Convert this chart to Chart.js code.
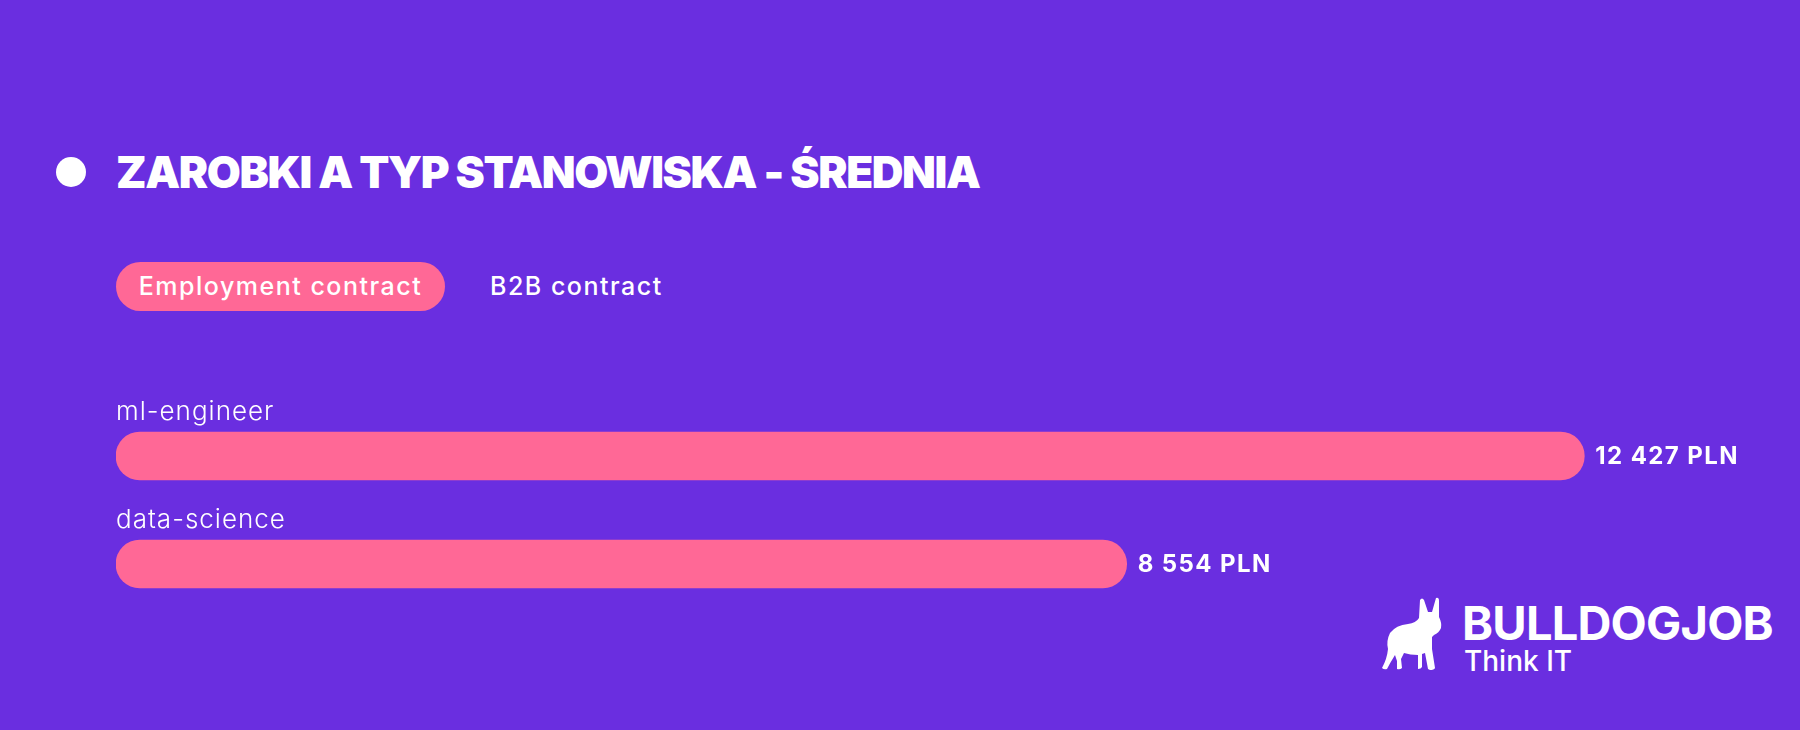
<!DOCTYPE html>
<html>
<head>
<meta charset="utf-8">
<script src="https://cdn.jsdelivr.net/npm/chart.js@4/dist/chart.umd.min.js"></script>
<style>
  html, body { margin: 0; padding: 0; }
  body { width: 1800px; height: 730px; overflow: hidden; background: #6A2EE0; position: relative; font-family: Inter, "Open Sans", sans-serif; color: #fff; }
  #dot { position: absolute; left: 56px; top: 157px; width: 30px; height: 30px; border-radius: 50%; background: #fff; }
  #title { position: absolute; left: 116px; top: 148px; font-size: 44px; line-height: 48px; font-weight: 900; white-space: nowrap; letter-spacing: -1.4px; }
  .pill { position: absolute; top: 262px; height: 49px; line-height: 49px; font-size: 25px; font-weight: 500; white-space: nowrap; letter-spacing: 1.5px; }
  #leg1 { left: 116px; width: 329px; text-align: center; background: #FF6896; border-radius: 25px; }
  #leg2 { left: 490px; }
  #wrap { position: absolute; left: 0; top: 0; width: 1800px; height: 730px; }
  #logo { position: absolute; left: 1378px; top: 597px; }
  #brand { position: absolute; left: 1462px; top: 598px; font-size: 47px; line-height: 50px; font-weight: 700; letter-spacing: -0.8px; }
  #think { position: absolute; left: 1464px; top: 645px; font-size: 28px; line-height: 32px; font-weight: 500; }
</style>
</head>
<body>
<div id="dot"></div>
<div id="title">ZAROBKI A TYP STANOWISKA - ŚREDNIA</div>
<div class="pill" id="leg1">Employment contract</div>
<div class="pill" id="leg2">B2B contract</div>
<svg id="logo" width="72" height="74" viewBox="0 0 72 74">
  <path fill="#fff" d="M41 21 L42 3 Q44 0 46 3 L50 15 L54 15 L58 1 Q61 0 61 4 L61 20 Q64 26 63 31 Q61 36 56 38 L54 40 L54 52 L57 71 Q56 73 52 73 L50 72 L47 56 L44 57 L44 70 Q43 72 40 72 L40 58 Q32 58 26 56 L23 62 L24 71 Q22 73 19 72 L19 64 L17 58 Q12 66 9 72 Q6 73 4 71 Q9 62 10 52 Q8 44 12 36 Q18 28 30 27 Q38 26 41 21 Z"/>
</svg>
<div id="brand">BULLDOGJOB</div>
<div id="think">Think IT</div>
<div id="wrap"><canvas id="chart"></canvas></div>
<script>
const categories = ['ml-engineer', 'data-science'];
const employmentValues = [12427, 8554];
const seriesLabel = 'Employment contract';

const pink = '#FF6896';

function formatPLN(v) {
  return String(v).replace(/\B(?=(\d{3})+(?!\d))/g, ' ') + ' PLN';
}

const barLabels = {
  id: 'barLabels',
  afterDatasetsDraw(chart) {
    const ctx = chart.ctx;
    const meta = chart.getDatasetMeta(0);
    ctx.save();
    ctx.fillStyle = '#fff';
    ctx.textBaseline = 'middle';
    ctx.textAlign = 'left';
    meta.data.forEach((bar, i) => {
      // category name above the bar
      ctx.font = '300 26px Inter, "Open Sans", sans-serif';
      ctx.letterSpacing = '1px';
      ctx.fillText(chart.data.labels[i], chart.chartArea.left, bar.y - 44);
      // value right of the bar
      ctx.font = '700 24px Inter, "Open Sans", sans-serif';
      ctx.letterSpacing = '1.4px';
      ctx.fillText(formatPLN(chart.data.datasets[0].data[i]), bar.x + 11, bar.y + 1);
    });
    ctx.restore();
  }
};

new Chart(document.getElementById('chart'), {
  type: 'bar',
  data: {
    labels: categories,
    datasets: [{
      label: seriesLabel,
      data: employmentValues,
      backgroundColor: pink,
      borderRadius: 24,
      borderSkipped: false,
      barThickness: 48
    }]
  },
  options: {
    indexAxis: 'y',
    responsive: true,
    maintainAspectRatio: false,
    animation: false,
    layout: { padding: { left: 116, right: 148, top: 402, bottom: 112 } },
    scales: {
      x: { display: false, min: 0, max: 13000 },
      y: { display: false }
    },
    plugins: {
      legend: { display: false },
      tooltip: { enabled: false }
    }
  },
  plugins: [barLabels]
});
</script>
</body>
</html>
